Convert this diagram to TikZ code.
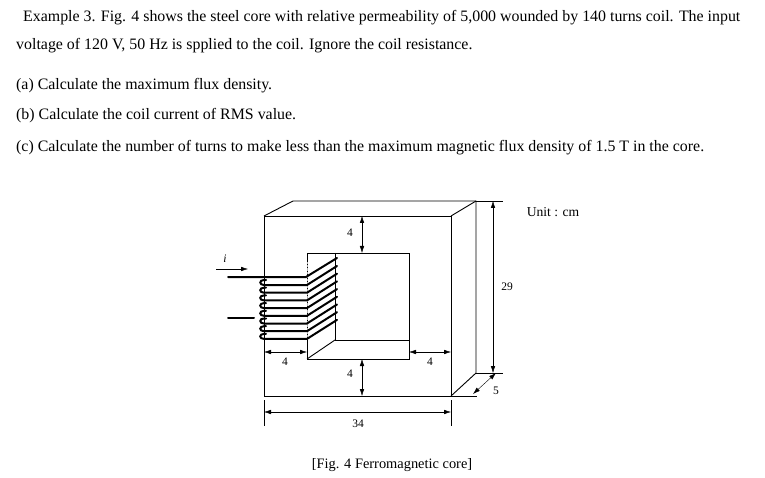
\documentclass[tikz,border=0pt]{standalone}
\usepackage{fontspec}
\setmainfont{Liberation Serif}
\usetikzlibrary{arrows.meta}
\begin{document}
\begin{tikzpicture}[x=1pt,y=-1pt,
  txt/.style={anchor=west,inner sep=0pt,font=\fontsize{15.9}{18}\selectfont},
  lbl/.style={inner sep=0pt,font=\fontsize{11.5}{13}\selectfont},
  dim/.style={thin,{Latex[length=7pt,width=4.5pt]}-{Latex[length=7pt,width=4.5pt]}},
  edge/.style={line width=0.9pt},
  wire/.style={line width=2pt,line cap=round}]
\useasboundingbox (0,0) rectangle (765,478);
\node[txt] (l1) at (23,18) {Example 3. Fig. 4 shows the steel core with relative permeability of 5,000 wounded by 140 turns coil. The input};
\node[txt] (l2) at (16,46) {voltage of 120 V, 50 Hz is spplied to the coil. Ignore the coil resistance.};
\node[txt] (la) at (16,86) {(a) Calculate the maximum flux density.};
\node[txt] (lb) at (16,116) {(b) Calculate the coil current of RMS value.};
\node[txt] (lc) at (16,148) {(c) Calculate the number of turns to make less than the maximum magnetic flux density of 1.5 T in the core.};
% core
\coordinate (A) at (264,216); \coordinate (B) at (451,216);
\coordinate (C) at (451,396); \coordinate (D) at (264,396);
\draw[edge] (A) rectangle (C);
\draw[edge] (A) -- (293,201) -- (476,201) -- (476,373) -- (C);
\draw[edge] (B) -- (476,201);
% window
\draw[edge] (307,359) -- (307,253) -- (409,253) -- (409,359) -- cycle;
\draw[edge] (335,253) -- (335,340) -- (409,340);
\draw[edge] (307,359) -- (335,340);
% coil
\draw[gray!60,densely dotted] (307,262) -- (307,340);
\draw[wire] (228,277) -- (306,277) -- (337,258);
\foreach \k in {0,...,7}{
  \pgfmathsetmacro{\yy}{285+\k*7.7}
  \draw[wire] (337,\yy-19) -- (307,\yy) -- (264,\yy) .. controls (259,\yy) and (259,\yy-5) .. (264,\yy-5) -- (266,\yy-5);
}
\draw[wire] (228,318) -- (254,318);
% i
\draw[thin,-{Latex[length=7pt,width=4.5pt]}] (216,269) -- (248,269);
\node[lbl,font=\fontsize{11.5}{13}\selectfont\itshape] (i) at (225,259) {i};
% dims
\draw[dim] (362,216) -- (362,253); \node[lbl] (t4) at (350,233) {4};
\draw[dim] (362,359) -- (362,396); \node[lbl] (b4) at (350,374) {4};
\draw[dim] (264,352) -- (307,352); \node[lbl] (lf4) at (285,362) {4};
\draw[dim] (409,352) -- (451,352); \node[lbl] (r4) at (430,362) {4};
\draw[thin] (476,201) -- (503,201) (476,373) -- (503,373);
\draw[dim] (493,201) -- (493,373); \node[lbl] (h29) at (507,287) {29};
\draw[thin] (451,396) -- (477,396);
\draw[dim] (473,394) -- (496,373); \node[lbl] (d5) at (496,391) {5};
\draw[thin] (264,400) -- (264,426) (451,400) -- (451,426);
\draw[dim] (264,412) -- (451,412); \node[lbl] (w34) at (358,424) {34};
\node[lbl,font=\fontsize{13.6}{15}\selectfont] (unit) at (553,212) {Unit : cm};
\node[lbl,font=\fontsize{14.4}{16}\selectfont] (cap) at (392,465) {[Fig. 4 Ferromagnetic core]};
\end{tikzpicture}
\end{document}
